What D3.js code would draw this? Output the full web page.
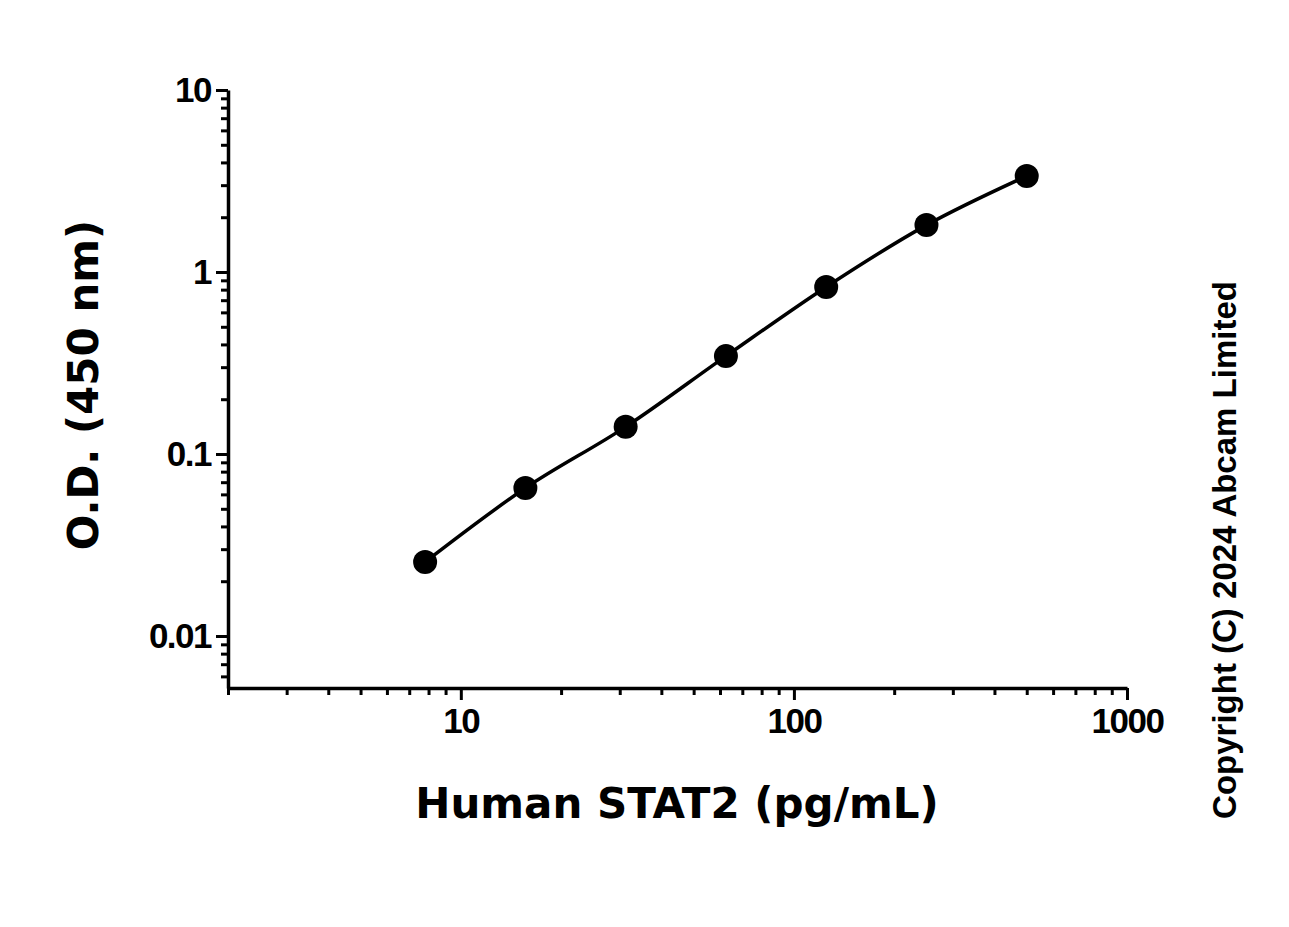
<!DOCTYPE html>
<html><head><meta charset="utf-8">
<script src="https://cdn.jsdelivr.net/npm/d3@7"></script>
<style>body{margin:0;background:#fff}</style></head>
<body><svg id="c" width="1289" height="927"></svg>
<script>
const concentrations=[7.8125,15.625,31.25,62.5,125,250,500];
const odValues=[0.0255,0.065,0.141,0.345,0.828,1.81,3.37];
const xTickLabels=[10,100,1000];
const yTickLabels=[0.01,0.1,1,10];

const svg=d3.select("#c");
const x=d3.scaleLog().domain([2,1000]).range([228,1127]);
const y=d3.scaleLog().domain([0.00518,10]).range([688,90]);
const font="'Liberation Sans', Arial, sans-serif";
const titleFont="'DejaVu Sans', sans-serif";

const xMinor=[];for(let d=1;d<=100;d*=10)for(let k=2;k<=9;k++){const v=k*d;if(v>=2&&v<=1000)xMinor.push(v);}
const yMinor=[];for(let d=0.001;d<=1.01;d*=10)for(let k=2;k<=9;k++){const v=k*d;if(v>=0.00518&&v<=10)yMinor.push(v);}

const xa=svg.append("g").attr("transform","translate(0,688)");
xa.call(d3.axisBottom(x).tickValues(xTickLabels).tickFormat(d3.format("d")).tickSize(12).tickPadding(8).tickSizeOuter(0));
xa.append("g").call(d3.axisBottom(x).tickValues(xMinor).tickFormat("").tickSize(7).tickSizeOuter(0)).select(".domain").remove();
const ya=svg.append("g").attr("transform","translate(228,0)");
ya.call(d3.axisLeft(y).tickValues(yTickLabels).tickFormat(d=>d>=1?d3.format("d")(d):String(d)).tickSize(12).tickPadding(5).tickSizeOuter(0));
ya.append("g").call(d3.axisLeft(y).tickValues(yMinor).tickFormat("").tickSize(7).tickSizeOuter(0)).select(".domain").remove();
svg.selectAll(".domain").attr("stroke","#000").attr("stroke-width",3.5);
svg.selectAll(".tick line").attr("stroke","#000").attr("stroke-width",3);
svg.selectAll(".tick text").attr("font-family",font).attr("font-weight","bold").attr("font-size",35).attr("letter-spacing",-1.5).attr("fill","#000");

const pts=concentrations.map((c,i)=>[x(c),y(odValues[i])]);
svg.append("path").attr("d",d3.line().curve(d3.curveMonotoneX)(pts)).attr("fill","none").attr("stroke","#000").attr("stroke-width",3.5);
svg.selectAll("circle.p").data(concentrations).enter().append("circle")
  .attr("cx",d=>x(d)).attr("cy",(d,i)=>y(odValues[i])).attr("r",12).attr("fill","#000");

svg.append("text").attr("x",677).attr("y",818).attr("text-anchor","middle").attr("font-family",titleFont).attr("font-weight","bold").attr("font-size",42).text("Human STAT2 (pg/mL)");
svg.append("text").attr("transform","translate(98,385) rotate(-90)").attr("text-anchor","middle").attr("font-family",titleFont).attr("font-weight","bold").attr("font-size",42).text("O.D. (450 nm)");
svg.append("text").attr("transform","translate(1236,550) rotate(-90)").attr("text-anchor","middle").attr("font-family",font).attr("font-weight","bold").attr("font-size",33).text("Copyright (C) 2024 Abcam Limited");
</script></body></html>
